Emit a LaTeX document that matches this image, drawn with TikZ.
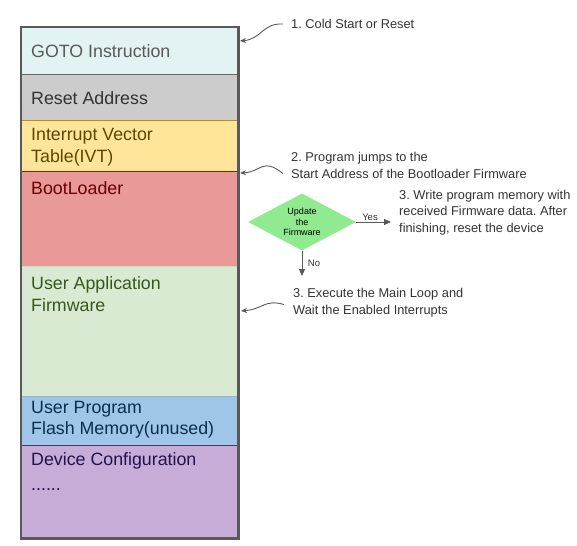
\documentclass[tikz,border=0pt]{standalone}
\usepackage{fontspec}
\setmainfont{Liberation Sans}
\usetikzlibrary{shapes.geometric,arrows.meta}
\frenchspacing
\definecolor{gotofill}{HTML}{E3F2F3}
\definecolor{gotodraw}{HTML}{6B7475}
\definecolor{gototext}{HTML}{595959}
\definecolor{resetfill}{HTML}{CCCCCC}
\definecolor{resetdraw}{HTML}{666666}
\definecolor{resettext}{HTML}{333333}
\definecolor{ivtfill}{HTML}{FFE599}
\definecolor{ivtdraw}{HTML}{BF9000}
\definecolor{ivttext}{HTML}{5C4700}
\definecolor{bootfill}{HTML}{EA9999}
\definecolor{bootdraw}{HTML}{85200C}
\definecolor{boottext}{HTML}{660000}
\definecolor{appfill}{HTML}{D9EAD3}
\definecolor{appdraw}{HTML}{C3DDB9}
\definecolor{apptext}{HTML}{38571A}
\definecolor{flashfill}{HTML}{9FC5E8}
\definecolor{flashdraw}{HTML}{8DB5DA}
\definecolor{flashtext}{HTML}{0B2E4E}
\definecolor{cfgfill}{HTML}{C8ACD8}
\definecolor{cfgdraw}{HTML}{4C3A5C}
\definecolor{cfgtext}{HTML}{20124D}
\definecolor{framec}{HTML}{595959}
\definecolor{notec}{HTML}{333333}
\definecolor{arrowc}{HTML}{595959}
\definecolor{diafill}{HTML}{90EB90}
\tikzset{
  memblock/.style={rectangle, anchor=north west, minimum width=216pt, inner sep=0pt, line width=1.3pt},
  boxtext/.style={anchor=west, align=left, inner sep=0pt, font=\fontsize{17.8}{21.5}\selectfont},
  note/.style={anchor=west, align=left, inner sep=0pt, text=notec, font=\fontsize{12.8}{16.5}\selectfont},
  small/.style={inner sep=0pt, text=notec, font=\fontsize{9.5}{10.5}\selectfont},
  callout/.style={draw=arrowc, line width=0.9pt, -{Stealth[length=6pt,width=5pt]}},
  flow/.style={draw=arrowc, line width=0.9pt, -{Triangle[length=7pt,width=6pt]}},
}
\begin{document}
\begin{tikzpicture}[x=1pt,y=-1pt]
\useasboundingbox (0,0) rectangle (577,545);
% memory blocks
\node[memblock, fill=gotofill, draw=gotodraw, minimum height=47pt] (goto) at (21,27) {};
\node[memblock, fill=resetfill, draw=resetdraw, minimum height=46pt] (reset) at (21,74) {};
\node[memblock, fill=ivtfill, draw=ivtdraw, minimum height=51pt] (ivt) at (21,120) {};
\node[memblock, fill=bootfill, draw=bootdraw, minimum height=95pt] (boot) at (21,171) {};
\node[memblock, fill=appfill, draw=appdraw, minimum height=130pt] (app) at (21,266) {};
\node[memblock, fill=flashfill, draw=flashdraw, minimum height=49pt] (flash) at (21,396) {};
\node[memblock, fill=cfgfill, draw=cfgdraw, minimum height=92pt] (cfg) at (21,445) {};
\draw[framec, line width=2.4pt] (goto.north west) rectangle (cfg.south east);
% texts in blocks
\node[boxtext, text=gototext] (tgoto) at (31,51) {GOTO Instruction};
\node[boxtext, text=resettext] (treset) at (31,98) {Reset Address};
\node[boxtext, text=ivttext] (tivt) at (31,147) {Interrupt Vector\\Table(IVT)};
\node[boxtext, text=boottext] (tboot) at (31,188.5) {BootLoader};
\node[boxtext, text=apptext] (tapp) at (31,294) {User Application\\Firmware};
\node[boxtext, text=flashtext] (tflash) at (31,419.5) {User Program\\Flash Memory(unused)};
\node[boxtext, text=cfgtext] (tcfg) at (31,461) {Device Configuration};
\node[boxtext, text=cfgtext] (tdots) at (31,490) {......};
% annotations
\node[note] (n1) at (291,24) {1. Cold Start or Reset};
\node[note] (n2) at (291,165.5) {2. Program jumps to the\\Start Address of the Bootloader Firmware};
\node[note] (n3) at (399,212.5) {3. Write program memory with\\received Firmware data. After\\finishing, reset the device};
\node[note] (n4) at (293,302.5) {3. Execute the Main Loop and\\Wait the Enabled Interrupts};
\coordinate (e1) at (240,41);
\coordinate (e2) at (240,173);
\coordinate (e3) at (241,311);
\draw[callout] ([xshift=-8pt]n1.west) .. controls (262,23) and (262,39) .. (e1);
\draw[callout] ([xshift=-8pt,yshift=-8pt]n2.west) .. controls (262,157) and (262,172) .. (e2);
\draw[callout] ([xshift=-9pt,yshift=-2pt]n4.west) .. controls (264,299) and (264,309) .. (e3);
% decision
\node[diamond, aspect=1.9, fill=diafill, inner sep=0pt, minimum width=108pt, minimum height=57pt,
      align=center, text=black, font=\fontsize{9}{10.5}\selectfont] (dec) at (302,222) {Update\\the\\Firmware};
\coordinate (yesend) at (391,222);
\coordinate (noend) at (302,276);
\draw[flow] (dec.east) -- (yesend);
\draw[flow] (dec.south) -- (noend);
\node[small] (yes) at (370,217) {Yes};
\node[small] (no) at (314,263) {No};
\end{tikzpicture}
\end{document}
